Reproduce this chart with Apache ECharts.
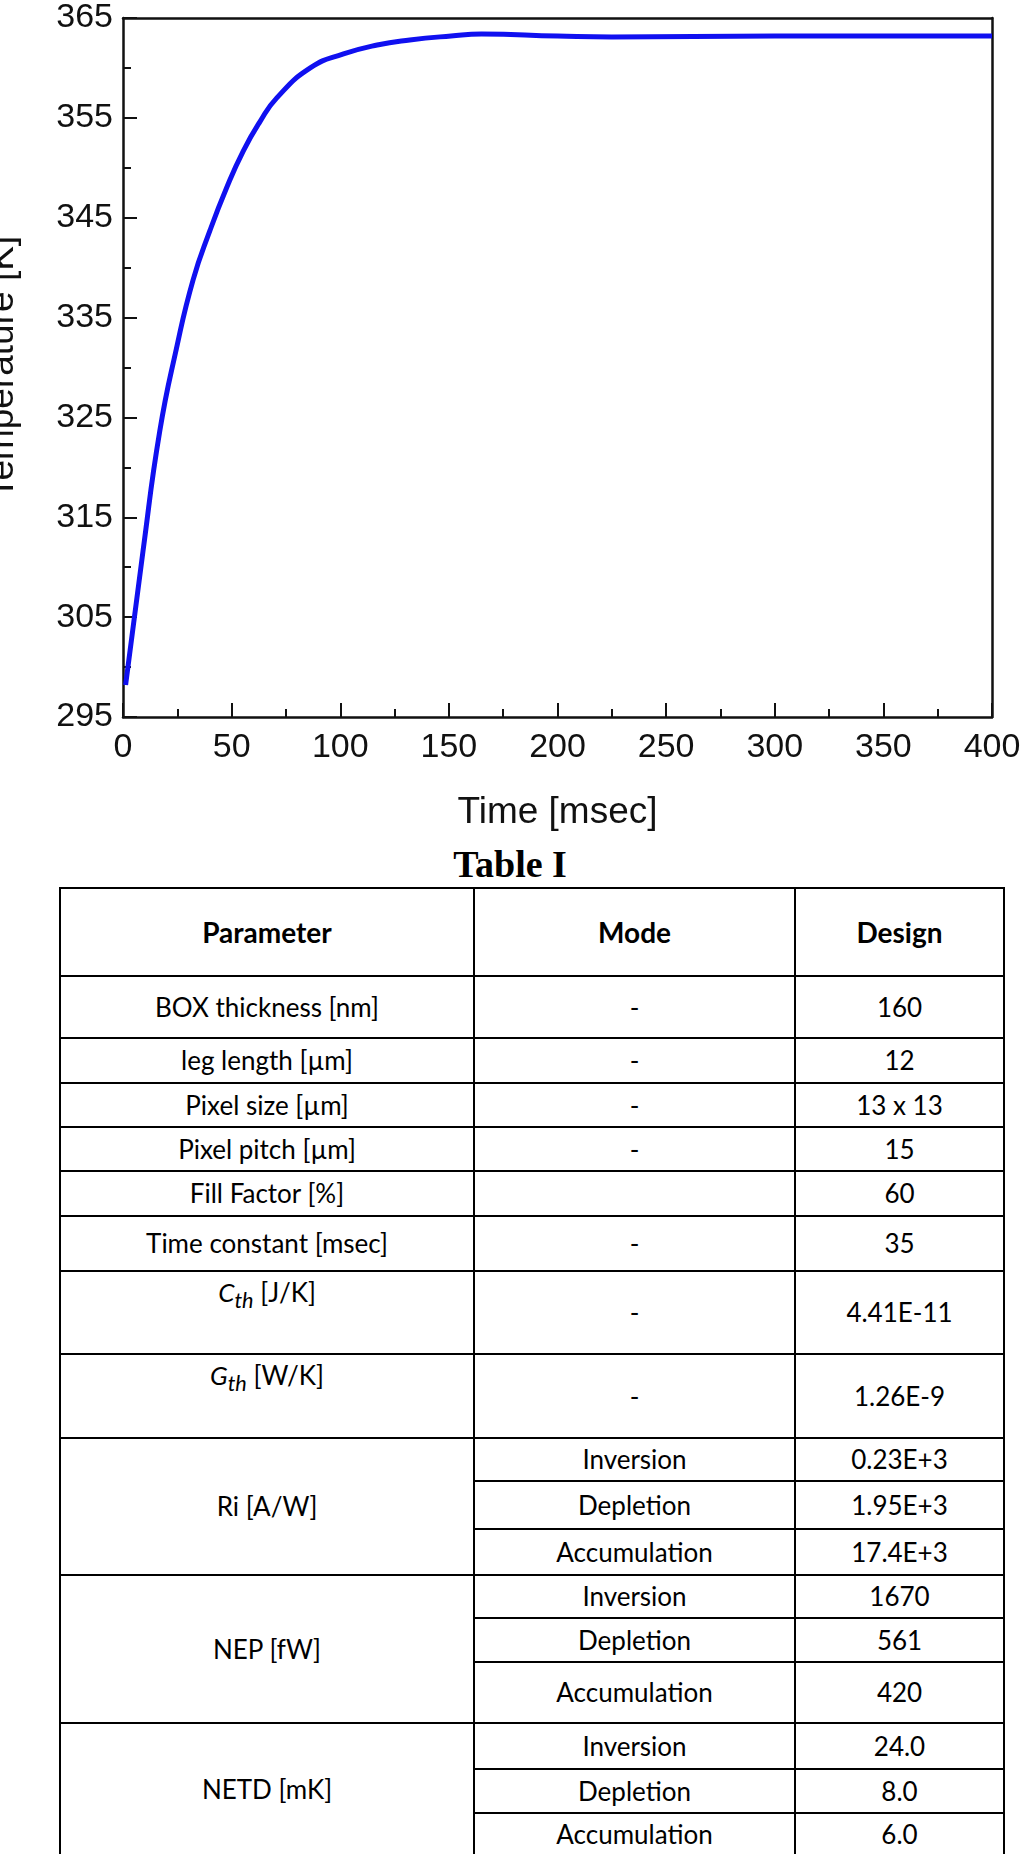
<!DOCTYPE html>
<html><head><meta charset="utf-8">
<script src="https://cdn.jsdelivr.net/npm/echarts@6/dist/echarts.min.js"></script>
<style>
body{margin:0;background:#fff;width:1020px;height:1854px;position:relative;overflow:hidden}
#chart{position:absolute;left:0;top:0;width:1020px;height:840px}
#title{position:absolute;left:0;width:1020px;top:842px;text-align:center;font:bold 38px "Liberation Serif",serif}
table{position:absolute;left:59px;top:887px;border-collapse:collapse;font-family:Lato,"Open Sans",sans-serif;font-size:26px;color:#000}
td{border:2px solid #000;text-align:center;padding:0;vertical-align:middle;line-height:1.1}
th{border:2px solid #000;font-size:28px;font-weight:bold}
td.top{vertical-align:top;padding-top:6px}
</style></head><body>
<div id="chart"></div>
<div id="title">Table I</div>
<table id="tbl"></table>
<script>
var timeMs=[1.2,9.2,16.9,24.6,32.3,40,47.7,55.4,63,70.8,86.2,101.5,117,132,151,165,200,225,300,400];
var tempK=[298.2,311.6,323.6,331.9,338.8,343.7,348.0,351.7,354.6,357,360,361.4,362.3,362.8,363.2,363.4,363.2,363.1,363.2,363.2];
var xTicks=[0,50,100,150,200,250,300,350,400];
var yTicks=[295,305,315,325,335,345,355,365];
var headers=['Parameter','Mode','Design'];
var rows=[
['BOX thickness [nm]','-','160'],
['leg length [µm]','-','12'],
['Pixel size [µm]','-','13 x 13'],
['Pixel pitch [µm]','-','15'],
['Fill Factor [%]','','60'],
['Time constant [msec]','-','35'],
['<i>C<sub>th</sub></i> [J/K]','-','4.41E-11'],
['<i>G<sub>th</sub></i> [W/K]','-','1.26E-9']];
var groups=[
['Ri [A/W]',['Inversion','Depletion','Accumulation'],['0.23E+3','1.95E+3','17.4E+3']],
['NEP [fW]',['Inversion','Depletion','Accumulation'],['1670','561','420']],
['NETD [mK]',['Inversion','Depletion','Accumulation'],['24.0','8.0','6.0']]];
var rowH=[62,45,44,44,45,55,83,84];
var grpH=[[43,48,46],[43,44,61],[46,44,43]];

var t=document.getElementById('tbl');
var h='<tr style="height:88px"><th style="width:410px">'+headers[0]+'</th><th style="width:317px">'+headers[1]+'</th><th style="width:205px">'+headers[2]+'</th></tr>';
rows.forEach(function(r,i){var c=i>=6?' class="top"':'';h+='<tr style="height:'+rowH[i]+'px"><td'+c+'>'+r[0]+'</td><td>'+r[1]+'</td><td>'+r[2]+'</td></tr>';});
groups.forEach(function(g,gi){for(var k=0;k<3;k++){h+='<tr style="height:'+grpH[gi][k]+'px">'+(k==0?'<td rowspan="3">'+g[0]+'</td>':'')+'<td>'+g[1][k]+'</td><td>'+g[2][k]+'</td></tr>';}});
t.innerHTML=h;

var c=echarts.init(document.getElementById('chart'));
var data=timeMs.map(function(x,i){return [x,tempK[i]];});
var lab={fontFamily:'Liberation Sans',fontSize:34,color:'#111'};
var nts={fontFamily:'Liberation Sans',fontSize:37,color:'#111'};
function ax(show,extra){return Object.assign({axisLine:{show:true,onZero:false,lineStyle:{color:'#111',width:2.5}},axisTick:{show:true,inside:true,length:14,lineStyle:{color:'#111',width:2}},minorTick:{show:true,splitNumber:2,length:8,lineStyle:{color:'#111',width:2}},splitLine:{show:false},axisLabel:Object.assign({show:show},lab)},extra);}
c.setOption({animation:false,
grid:{left:123,right:28,top:18,height:699,outerBoundsMode:'none',containLabel:false},
xAxis:[ax(true,{type:'value',min:0,max:400,interval:50,name:'Time [msec]',nameLocation:'middle',nameGap:77,nameTextStyle:nts,axisLabel:Object.assign({margin:14},lab)}),
 ax(false,{type:'value',min:0,max:400,interval:50,position:'top',axisTick:{show:false},minorTick:{show:false}})],
yAxis:[ax(true,{type:'value',min:295,max:365,interval:10,name:'Temperature [K]',nameLocation:'middle',nameGap:102,nameTextStyle:nts,axisLabel:Object.assign({margin:10},lab)}),
 ax(false,{type:'value',min:295,max:365,interval:10,position:'right',axisTick:{show:false},minorTick:{show:false}})],
series:[{type:'line',data:data,smooth:true,symbol:'none',lineStyle:{color:'#1010f0',width:5}}]
});
</script></body></html>
